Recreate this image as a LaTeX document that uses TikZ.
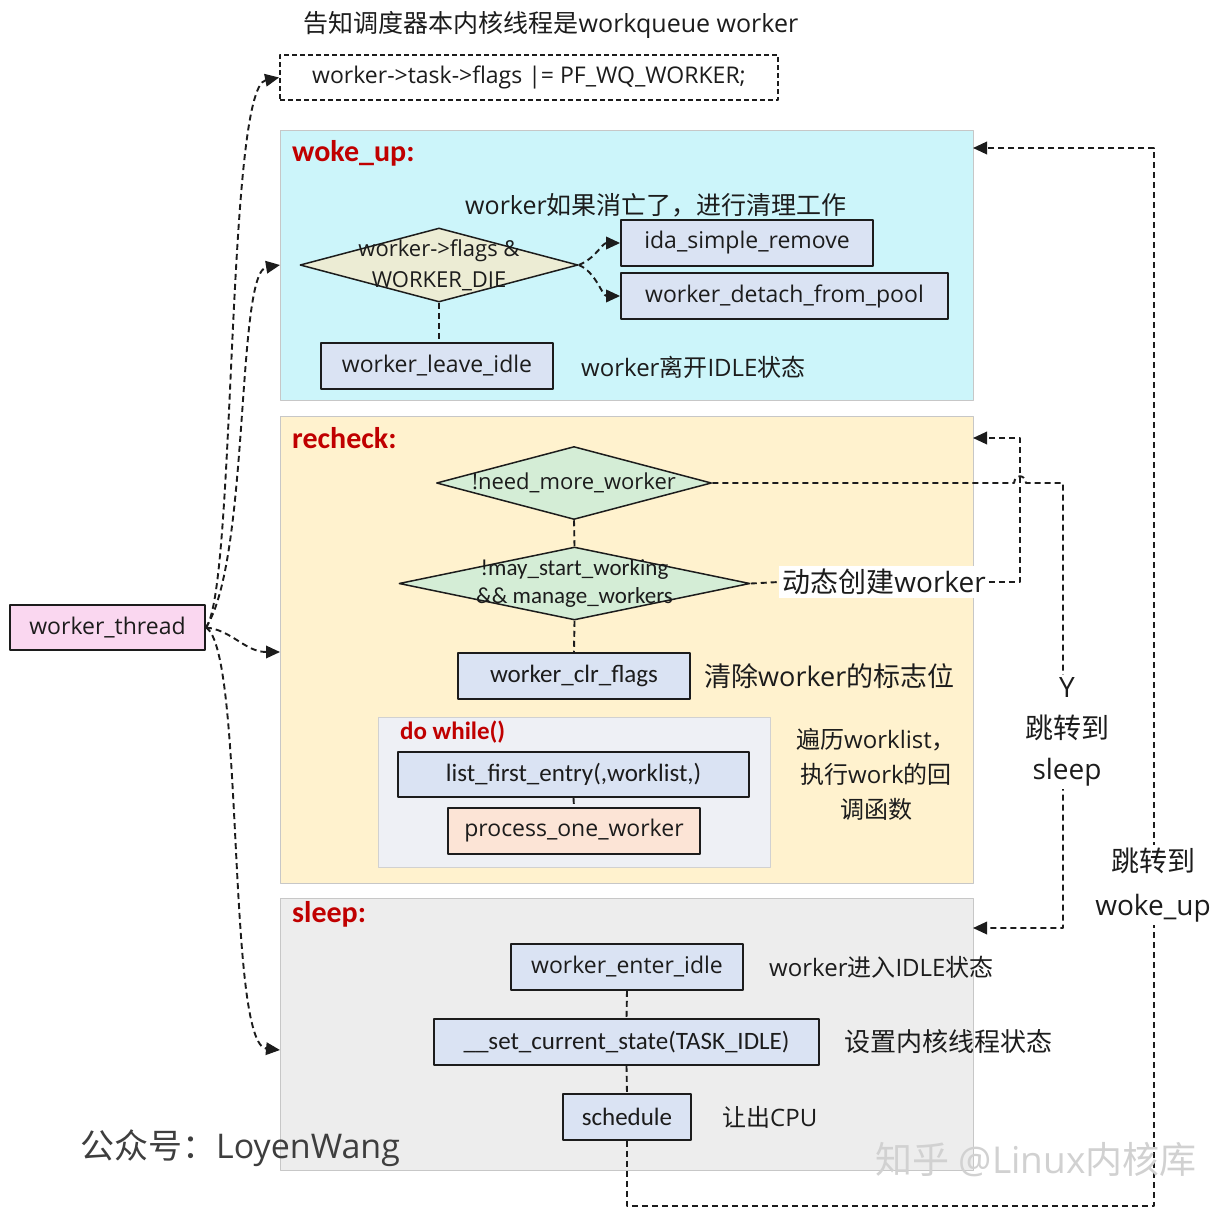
\documentclass[tikz,border=0pt]{standalone}
\usepackage{fontspec}
\setmainfont{Open Sans}
\newfontfamily\cjk{Noto Sans CJK SC}
\newfontfamily\calib{Carlito}
\usetikzlibrary{shapes.geometric,arrows.meta,calc}
\definecolor{cyanbg}{HTML}{CCF5FA}
\definecolor{creambg}{HTML}{FFF2CE}
\definecolor{graybg}{HTML}{EDEDED}
\definecolor{loopbg}{HTML}{EEF0F5}
\definecolor{boxblue}{HTML}{DAE3F3}
\definecolor{peach}{HTML}{FCE4D6}
\definecolor{pinkbox}{HTML}{FAD7F0}
\definecolor{khaki}{HTML}{ECECD4}
\definecolor{mint}{HTML}{D4EDD6}
\definecolor{headred}{HTML}{C00000}
\definecolor{ink}{HTML}{1C1C1C}
\newcommand\fsz[2]{\fontsize{#1}{#2}\selectfont}
\newcommand\zh[1]{{\cjk #1}}
\begin{document}
\begin{tikzpicture}[x=1pt,y=-1pt,line join=round,
  panel/.style={draw=black!22, line width=1pt, anchor=north west, inner sep=0pt, outer sep=0pt},
  box/.style={draw=ink, line width=1.8pt, fill=boxblue, inner sep=0pt, minimum height=46pt, font=\fsz{23}{23}, text=ink},
  cbox/.style={box, font=\calib\fsz{25}{25}},
  dia/.style={diamond, draw=ink, line width=1.5pt, inner sep=0pt},
  note/.style={font=\fsz{24}{24}, text=ink, inner sep=1pt},
  head/.style={font=\calib\bfseries\fsz{30}{30}, text=headred, anchor=west, inner sep=0pt},
  dl/.style={draw=ink, line width=1.9pt, dash pattern=on 6pt off 4pt},
  arr/.style={dl, -{Triangle[length=14pt,width=12.5pt]}}]
\useasboundingbox[fill=white] (0,0) rectangle (1232,1210);

% panels
\node[panel, fill=cyanbg, minimum width=693pt, minimum height=270pt] (wake) at (280,130) {};
\node[panel, fill=creambg, minimum width=693pt, minimum height=467pt] (rech) at (280,416) {};
\node[panel, fill=graybg, minimum width=693pt, minimum height=272pt] (slp) at (280,898) {};
\node[panel, fill=loopbg, draw=black!18, minimum width=392pt, minimum height=150pt] (loop) at (378,717) {};

\node[head] (hw) at (292,153) {woke\_up:};
\node[head] (hr) at (292,438) {recheck:};
\node[head] (hs) at (292,914) {sleep:};
\node[head, font=\calib\bfseries\fsz{25}{25}] (hd) at (400,732) {do while()};

% top
\node[font=\fsz{25}{25}, text=ink] (toptxt) at (551,25) {\zh{告知调度器本内核线程是}workqueue worker};
\node[draw=ink, line width=1.8pt, dash pattern=on 5pt off 3pt, fill=white, minimum width=498pt, minimum height=45pt, inner sep=0pt, font=\fsz{23}{23}, text=ink] (flags) at (529,77.5) {worker->task->flags |= PF\_WQ\_WORKER;};

% woke_up
\node[dia, fill=khaki, minimum width=278pt, minimum height=74pt] (d0) at (439,265) {};
\node[font=\fsz{22}{31}, text=ink, align=center, inner sep=0pt] (d0t) at (d0) {worker->flags \&\\WORKER\_DIE};
\node[note, font=\fsz{25}{25}] (n1) at (656,205) {worker\zh{如果消亡了，进行清理工作}};
\node[box, minimum width=252pt] (ida) at (747,243) {ida\_simple\_remove};
\node[box, minimum width=327pt] (det) at (784.5,296) {worker\_detach\_from\_pool};
\node[box, minimum width=232pt] (leave) at (437,366) {worker\_leave\_idle};
\node[note, anchor=west] (n2) at (580,367) {worker\zh{离开}IDLE\zh{状态}};

% recheck
\node[dia, fill=mint, minimum width=275pt, minimum height=73pt] (d1) at (574,483) {};
\node[font=\fsz{22}{22}, text=ink, inner sep=0pt] (d1t) at (d1) {!need\_more\_worker};
\node[dia, fill=mint, minimum width=351pt, minimum height=73pt] (d2) at (574.5,583.5) {};
\node[font=\calib\fsz{23}{28}, text=ink, align=center, inner sep=0pt] (d2t) at (d2) {!may\_start\_working\\\&\& manage\_workers};
\node[cbox, minimum width=232pt] (clr) at (574,676) {worker\_clr\_flags};
\node[note, anchor=west, font=\fsz{27}{27}] (n3) at (703,676) {\zh{清除}worker\zh{的标志位}};
\node[cbox, minimum width=351pt, minimum height=45pt] (lfe) at (573.5,774.5) {list\_first\_entry(,worklist,)};
\node[box, fill=peach, minimum width=252pt] (proc) at (574,831) {process\_one\_worker};
\node[note, align=center, font=\fsz{24}{35}] (n4) at (876,774) {\zh{遍历}worklist\zh{，}\\\zh{执行}work\zh{的回}\\\zh{调函数}};

% sleep
\node[box, minimum width=232pt] (enter) at (627,967) {worker\_enter\_idle};
\node[note, anchor=west] (n5) at (768,967) {worker\zh{进入}IDLE\zh{状态}};
\node[cbox, minimum width=385pt] (setst) at (626.5,1042) {\_\_set\_current\_state(TASK\_IDLE)};
\node[note, anchor=west, font=\fsz{26}{26}] (n6) at (843,1042) {\zh{设置内核线程状态}};
\node[cbox, minimum width=128pt] (sched) at (627,1117) {schedule};
\node[note, anchor=west] (n7) at (721,1117) {\zh{让出}CPU};

% worker_thread
\node[box, fill=pinkbox, minimum width=195pt, minimum height=45pt] (thr) at (107.5,627.5) {worker\_thread};

% coordinates
\coordinate (topIn) at (flags.west);
\coordinate (wakeIn) at (wake.west |- d0);
\coordinate (rechIn) at ($(rech.north west)+(0,236)$);
\coordinate (slpIn) at ($(slp.north west)+(0,152)$);

% connectors from worker_thread
\draw[arr] (thr.east) .. controls (236,590) and (226,88) .. (topIn);
\draw[arr] (thr.east) .. controls (250,560) and (236,272) .. (wakeIn);
\draw[arr] (thr.east) .. controls (232,630) and (245,652) .. (rechIn);
\draw[arr] (thr.east) .. controls (245,650) and (226,1045) .. (slpIn);

% woke_up connectors
\draw[arr] (d0.east) .. controls (596,258) and (602,243) .. (ida.west);
\draw[arr] (d0.east) .. controls (596,272) and (602,296) .. (det.west);
\draw[dl] (d0.south) -- (d0.south |- leave.north);

% recheck connectors
\draw[dl] (d1.south) -- (d2.north);
\draw[dl] (d2.south) -- (clr.north);
\draw[dl] (lfe.south) -- (proc.north);

% sleep connectors
\draw[dl] (enter.south) -- (setst.north);
\draw[dl] (setst.south) -- (sched.north);

% dynamic create worker
\node[fill=white, font=\fsz{28}{28}, text=ink, inner sep=3pt] (dyn) at (884,582) {\zh{动态创建}worker};
\coordinate (rj) at (1020,438);
\coordinate (rechR) at (rech.east |- rj);
\draw[dl] (d2.east) -- (dyn.west);
\draw[arr] (dyn.east) -| (rj) -- (rechR);

% jump to sleep
\coordinate (hopL) at (1014,483);
\coordinate (hopR) at (1026,483);
\coordinate (yj) at (1063,928);
\coordinate (slpR) at (slp.east |- yj);
\draw[arr] (d1.east) -- (hopL) .. controls (1015,474) and (1025,474) .. (hopR) -| (yj) -- (slpR);

% jump to woke_up
\coordinate (bj) at (1154,1206);
\coordinate (wakeR) at ($(wake.north east)+(0,18)$);
\draw[arr] (sched.south) |- (bj) |- (wakeR);

\node[fill=white, font=\fsz{28}{41}, align=center, text=ink, inner sep=3pt] (ysl) at (1067,732) {Y\\\zh{跳转到}\\sleep};
\node[fill=white, font=\fsz{28}{44}, align=center, text=ink, inner sep=3pt] (jw) at (1153,885) {\zh{跳转到}\\woke\_up};

% watermarks
\node[font=\fsz{34}{34}, text=ink!85, anchor=west, inner sep=0pt] (wm1) at (80,1148) {\zh{公众号：}LoyenWang};
\node[font=\fsz{37}{37}, text=black!18, anchor=west, inner sep=0pt] (wm2) at (875,1160) {\zh{知乎} @Linux\zh{内核库}};
\end{tikzpicture}
\end{document}
